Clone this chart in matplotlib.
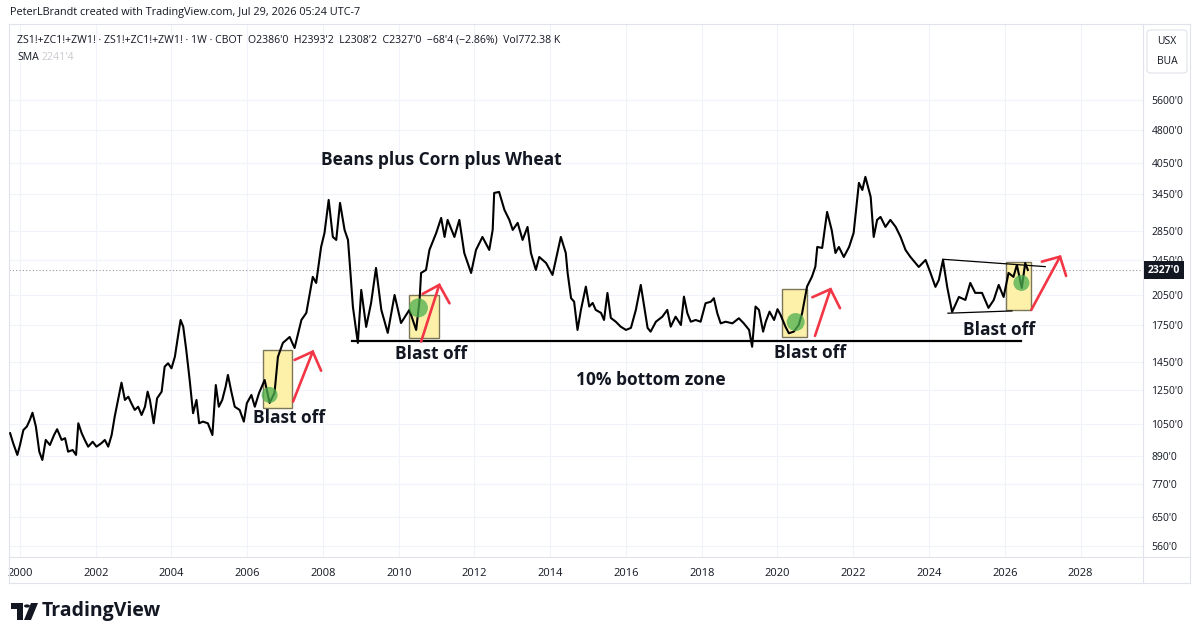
import matplotlib.pyplot as plt
import matplotlib.ticker as mticker
from matplotlib.patches import Rectangle, Polygon, Circle, FancyBboxPatch
from matplotlib.transforms import blended_transform_factory
from matplotlib.lines import Line2D

plt.rcParams['font.family'] = ['Open Sans', 'DejaVu Sans']

# weekly ZS1!+ZC1!+ZW1! (decimal year, cents)
years = [
    1999.74, 1999.82, 1999.93, 2000.00, 2000.09, 2000.18, 2000.26, 2000.33,
    2000.42, 2000.51, 2000.59, 2000.68, 2000.79, 2000.90, 2000.98, 2001.10,
    2001.19, 2001.27, 2001.39, 2001.48, 2001.54, 2001.63, 2001.71, 2001.80,
    2001.92, 2002.02, 2002.15, 2002.24, 2002.33, 2002.42, 2002.50, 2002.59,
    2002.68, 2002.77, 2002.86, 2002.94, 2003.03, 2003.12, 2003.21, 2003.30,
    2003.37, 2003.43, 2003.53, 2003.62, 2003.74, 2003.82, 2003.91, 2004.00,
    2004.09, 2004.17, 2004.24, 2004.31, 2004.39, 2004.48, 2004.57, 2004.66,
    2004.73, 2004.83, 2004.96, 2005.08, 2005.17, 2005.25, 2005.34, 2005.43,
    2005.49, 2005.58, 2005.67, 2005.80, 2005.91, 2005.99, 2006.11, 2006.20,
    2006.31, 2006.46, 2006.59, 2006.72, 2006.81, 2006.94, 2007.12, 2007.25,
    2007.43, 2007.56, 2007.73, 2007.82, 2007.95, 2008.04, 2008.15, 2008.26,
    2008.35, 2008.45, 2008.57, 2008.66, 2008.70, 2008.79, 2008.92, 2009.01,
    2009.14, 2009.27, 2009.40, 2009.54, 2009.71, 2009.89, 2010.06, 2010.28,
    2010.46, 2010.55, 2010.59, 2010.72, 2010.81, 2010.99, 2011.12, 2011.21,
    2011.29, 2011.47, 2011.60, 2011.73, 2011.91, 2012.04, 2012.21, 2012.39,
    2012.48, 2012.52, 2012.65, 2012.79, 2012.92, 2013.01, 2013.14, 2013.27,
    2013.40, 2013.49, 2013.62, 2013.71, 2013.89, 2014.06, 2014.28, 2014.41,
    2014.46, 2014.55, 2014.63, 2014.72, 2014.81, 2014.94, 2015.03, 2015.12,
    2015.20, 2015.34, 2015.42, 2015.51, 2015.60, 2015.73, 2015.86, 2016.00,
    2016.13, 2016.26, 2016.39, 2016.48, 2016.57, 2016.65, 2016.79, 2016.96,
    2017.09, 2017.18, 2017.31, 2017.45, 2017.53, 2017.62, 2017.71, 2017.84,
    2017.97, 2018.10, 2018.24, 2018.32, 2018.41, 2018.50, 2018.63, 2018.81,
    2018.98, 2019.11, 2019.25, 2019.33, 2019.42, 2019.51, 2019.62, 2019.69,
    2019.79, 2019.91, 2020.00, 2020.08, 2020.21, 2020.30, 2020.43, 2020.56,
    2020.65, 2020.78, 2020.91, 2021.00, 2021.05, 2021.18, 2021.31, 2021.43,
    2021.53, 2021.62, 2021.75, 2021.89, 2022.01, 2022.15, 2022.24, 2022.32,
    2022.46, 2022.54, 2022.63, 2022.72, 2022.85, 2022.98, 2023.12, 2023.25,
    2023.38, 2023.51, 2023.73, 2023.91, 2024.04, 2024.17, 2024.26, 2024.37,
    2024.48, 2024.61, 2024.79, 2024.96, 2025.09, 2025.22, 2025.40, 2025.57,
    2025.71, 2025.84, 2025.97, 2026.10, 2026.23, 2026.32, 2026.45, 2026.54,
    2026.61,
]
prices = [
    1002, 952, 896, 943, 1019, 1037, 1073, 1114,
    1037, 911, 873, 968, 943, 993, 1023, 968,
    977, 911, 919, 896, 1055, 1002, 968, 935,
    959, 935, 952, 968, 935, 993, 1091, 1190,
    1301, 1190, 1210, 1170, 1130, 1149, 1101, 1149,
    1242, 1190, 1055, 1200, 1242, 1413, 1438, 1401,
    1488, 1650, 1798, 1737, 1540, 1319, 1111, 1190,
    1055, 1064, 1055, 993, 1285, 1149, 1190, 1275,
    1354, 1242, 1149, 1130, 1064, 1170, 1221, 1149,
    1232, 1319, 1172, 1234, 1486, 1597, 1647, 1556,
    1798, 1865, 2246, 2177, 2621, 2818, 3341, 2760,
    2718, 3290, 2862, 2718, 2451, 1924, 1597, 2100,
    1735, 1963, 2352, 1894, 1682, 2046, 1770, 1894,
    1708, 1994, 2292, 2328, 2581, 2818, 3045, 2760,
    3014, 2760, 3014, 2541, 2292, 2581, 2760, 2581,
    2862, 3464, 3482, 3174, 3014, 2862, 2968, 2718,
    2907, 2541, 2328, 2489, 2413, 2269, 2760, 2541,
    2288, 2012, 1976, 1708, 1894, 2136, 1927, 1963,
    1894, 1865, 1798, 2067, 1817, 1782, 1737, 1708,
    1726, 1894, 2155, 1927, 1726, 1693, 1782, 1829,
    1894, 1737, 1829, 1752, 2028, 1862, 1782, 1798,
    1782, 1960, 1976, 2012, 1862, 1767, 1782, 1767,
    1814, 1767, 1708, 1566, 1927, 1894, 1693, 1782,
    1877, 1798, 1901, 1846, 1737, 1679, 1693, 1752,
    1862, 2136, 2249, 2368, 2621, 2608, 3141, 2862,
    2541, 2621, 2489, 2621, 2818, 3649, 3518, 3764,
    3393, 2760, 3014, 3061, 2907, 3014, 2907, 2760,
    2581, 2489, 2364, 2451, 2292, 2133, 2211, 2451,
    2133, 1874, 2025, 1994, 2177, 2068, 2068, 1914,
    1994, 2155, 2025, 2292, 2246, 2389, 2122, 2413,
    2327,
]

price_ticks = [560, 650, 770, 890, 1050, 1250, 1450, 1750, 2050, 2450,
               2850, 3450, 4050, 4800, 5600]
year_ticks = list(range(2000, 2030, 2))
last_price = 2327
sma_value = "2241'4"

# drawings on the chart
bottom_zone = 1614
zone_start, zone_end = 2008.77, 2026.42
boxes = [  # x0, x1, low, high
    (2006.41, 2007.18, 1142, 1540),
    (2010.26, 2011.05, 1639, 2046),
    (2020.12, 2020.78, 1647, 2111),
    (2026.04, 2026.69, 1894, 2426),
]
circles = [(2006.59, 1221, 16), (2010.52, 1914, 19), (2020.48, 1779, 18), (2026.44, 2177, 16)]
arrows = [  # shaft start, tip, left wing start, right wing end
    ((2007.21, 1180), (2007.73, 1527), (2007.25, 1463), (2007.95, 1384)),
    ((2010.59, 1608), (2011.07, 2155), (2010.63, 2057), (2011.34, 1960)),
    ((2020.99, 1656), (2021.40, 2108), (2020.92, 2022), (2021.65, 1911)),
    ((2026.70, 1894), (2027.46, 2493), (2026.98, 2430), (2027.62, 2257)),
]
triangle_top = [(2024.36, 2460), (2027.07, 2368)]
triangle_bottom = [(2024.50, 1862), (2026.19, 1884)]
labels = [
    ("Beans plus Corn plus Wheat", 2007.96, 4109),
    ("Blast off", 2006.14, 1084),
    ("Blast off", 2009.89, 1508),
    ("Blast off", 2019.92, 1516),
    ("Blast off", 2024.89, 1708),
    ("10% bottom zone", 2014.68, 1319),
]

W, H = 1200, 639
fig = plt.figure(figsize=(W / 100, H / 100), dpi=100)


def fx(px):
    return px / W


def fy(py):
    return 1 - py / H


ax = fig.add_axes([fx(9), fy(557), fx(1143) - fx(9), fy(24) - fy(557)])
ax.set_yscale('log')
ax.set_xlim(1999.71, 2029.65)
ax.set_ylim(529, 8285)

grid_c = '#f0f3fa'
for v in price_ticks:
    ax.axhline(v, color=grid_c, lw=0.8, zorder=0)
for yr in year_ticks:
    ax.axvline(yr, color=grid_c, lw=0.8, zorder=0)

ax.plot(years, prices, color='black', lw=1.5, zorder=3)
ax.axhline(last_price, color='#9598a1', lw=0.8, ls=(0, (1, 2)), zorder=2)

# annotations
ax.plot([zone_start, zone_end], [bottom_zone, bottom_zone], color='black', lw=1.6, zorder=4)
for x0, x1, lo, hi in boxes:
    ax.add_patch(Rectangle((x0, lo), x1 - x0, hi - lo, facecolor='#fdf1a9',
                           edgecolor='#7c7658', lw=1.0, zorder=2))
for cx, cy, d in circles:
    ax.scatter([cx], [cy], s=(d * 0.72) ** 2, color='#4caf50', alpha=0.75,
               edgecolors='none', zorder=5)
for start, tip, wl, wr in arrows:
    ax.plot([start[0], tip[0]], [start[1], tip[1]], color='#f23645', lw=1.9,
            solid_capstyle='round', zorder=6)
    ax.plot([wl[0], tip[0], wr[0]], [wl[1], tip[1], wr[1]], color='#f23645', lw=1.9,
            solid_capstyle='round', solid_joinstyle='miter', zorder=6)
for seg in (triangle_top, triangle_bottom):
    ax.plot([p[0] for p in seg], [p[1] for p in seg], color='black', lw=0.9, zorder=4)
for txt, x, y in labels:
    ax.text(x, y, txt, fontsize=12.5, fontweight='bold', color='#131722',
            ha='left', va='center', zorder=7)

# axes styling
for s in ax.spines.values():
    s.set_color('#e0e3eb')
    s.set_linewidth(0.8)
ax.yaxis.tick_right()
ax.yaxis.set_major_locator(mticker.FixedLocator(price_ticks))
ax.yaxis.set_major_formatter(mticker.FixedFormatter([f"{v}'0" for v in price_ticks]))
ax.yaxis.set_minor_locator(mticker.NullLocator())
ax.tick_params(axis='y', length=0, pad=6, labelsize=7.5, labelcolor='#131722')
ax.set_xticks(year_ticks)
ax.set_xticklabels([str(y) for y in year_ticks])
ax.tick_params(axis='x', length=0, pad=8, labelsize=8, labelcolor='#131722')

trans = blended_transform_factory(ax.transAxes, ax.transData)
ax.text(1.004, last_price, "2327'0", transform=trans, fontsize=7.5, fontweight='bold',
        color='white', ha='left', va='center', zorder=10,
        bbox=dict(boxstyle='square,pad=0.35', facecolor='#131722', edgecolor='none'))

# frame of the price and time scales
fig.add_artist(Line2D([fx(1143), fx(1190)], [fy(557), fy(557)], color='#e0e3eb', lw=0.8))
fig.add_artist(Line2D([fx(9), fx(1190)], [fy(583), fy(583)], color='#e0e3eb', lw=0.8))
fig.add_artist(Line2D([fx(1190), fx(1190)], [fy(24), fy(583)], color='#e0e3eb', lw=0.8))
fig.add_artist(Line2D([fx(9), fx(9)], [fy(557), fy(583)], color='#e0e3eb', lw=0.8))
fig.add_artist(Line2D([fx(1143), fx(1143)], [fy(557), fy(583)], color='#e0e3eb', lw=0.8))
fig.add_artist(Line2D([fx(1143), fx(1190)], [fy(24), fy(24)], color='#e0e3eb', lw=0.8))

# currency / unit box
fig.add_artist(FancyBboxPatch((fx(1147), fy(73)), fx(40), fy(30) - fy(73),
                              boxstyle='round,pad=0,rounding_size=0.004',
                              facecolor='white', edgecolor='#e0e3eb', lw=0.8))
fig.text(fx(1167), fy(41), "USX", fontsize=7.5, color='#131722', ha='center', va='center')
fig.text(fx(1167), fy(62), "BUA", fontsize=7.5, color='#131722', ha='center', va='center')

# header
fig.text(fx(10), fy(12), "PeterLBrandt created with TradingView.com, Jul 29, 2026 05:24 UTC-7",
         fontsize=7.8, color='#131722', ha='left', va='center')
fig.text(fx(17), fy(40),
         "ZS1!+ZC1!+ZW1! · ZS1!+ZC1!+ZW1! · 1W · CBOT  O2386'0  H2393'2  L2308'2  "
         "C2327'0  \u221268'4 (\u22122.86%)  Vol772.38 K",
         fontsize=7.6, color='#131722', ha='left', va='center')
fig.text(fx(17), fy(57), "SMA", fontsize=7.6, color='#131722', ha='left', va='center')
fig.text(fx(41), fy(57), sma_value, fontsize=7.6, color='#c8cad0', ha='left', va='center')

# TradingView logo
fig.add_artist(Polygon([(fx(11), fy(603)), (fx(23), fy(603)), (fx(23), fy(620)),
                        (fx(17), fy(620)), (fx(17), fy(609)), (fx(11), fy(609))],
                       closed=True, facecolor='#131722', edgecolor='none'))
fig.add_artist(Circle((fx(27), fy(606)), 3 / W, facecolor='#131722', edgecolor='none'))
fig.add_artist(Polygon([(fx(31), fy(603)), (fx(38), fy(603)), (fx(31), fy(620)),
                        (fx(24), fy(620))],
                       closed=True, facecolor='#131722', edgecolor='none'))
fig.text(fx(42), fy(611), "TradingView", fontsize=14, fontweight='bold',
         color='#131722', ha='left', va='center')

fig.savefig('out.png', dpi=100, facecolor='white')
